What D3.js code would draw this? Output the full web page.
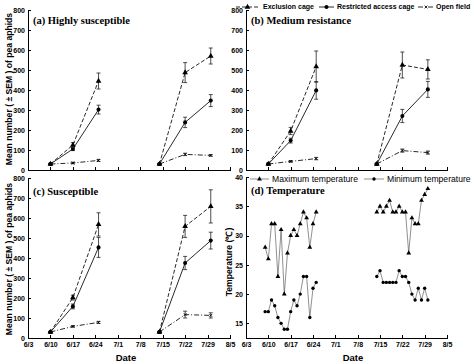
<!DOCTYPE html>
<html>
<head>
<meta charset="utf-8">
<title>Pea aphid numbers and temperature</title>
<script src="https://d3js.org/d3.v7.min.js"></script>
<style>
  body { margin: 0; background: #fff; }
  svg { display: block; font-family: "Liberation Sans", Arial, sans-serif; }
  .axis path, .axis line { stroke: #000; stroke-width: 1; shape-rendering: crispEdges; }
  .axis text { font-size: 7px; font-weight: bold; fill: #000; }
  .panel-title { font-family: "Liberation Serif", "Times New Roman", serif; font-weight: bold; font-size: 10.5px; }
  .axis-title { font-weight: bold; font-size: 8.6px; text-anchor: middle; }
  .date-title { font-weight: bold; font-size: 9.5px; text-anchor: middle; }
  .legend-top text { font-size: 7px; font-weight: bold; }
  .legend-temp text { font-size: 8.6px; }
</style>
</head>
<body>
<div id="chart"></div>
<script>
// ticks
const dateTicks = ["6/3", "6/10", "6/17", "6/24", "7/1", "7/8", "7/15", "7/22", "7/29", "8/5"];
const aphidTicks = [0, 100, 200, 300, 400, 500, 600, 700, 800];
const tempTicks = [15, 20, 25, 30, 35, 40];

// sampling dates of the aphid counts
const sampleDates = ["6/10", "6/17", "6/25", "7/14", "7/22", "7/30"];

// (a) Highly susceptible
const aExclusion = [30, 125, 445, 30, 487, 570];
const aExclusionSem = [3, 12, 40, 3, 50, 40];
const aRestricted = [30, 105, 302, 30, 238, 347];
const aRestrictedSem = [3, 8, 22, 3, 26, 30];
const aOpen = [30, 35, 48, 30, 78, 73];
const aOpenSem = [2, 4, 5, 2, 6, 4];

// (b) Medium resistance
const bExclusion = [30, 195, 517, 30, 525, 503];
const bExclusionSem = [3, 18, 78, 3, 65, 48];
const bRestricted = [30, 147, 398, 30, 270, 403];
const bRestrictedSem = [3, 12, 44, 3, 33, 40];
const bOpen = [30, 43, 57, 30, 97, 87];
const bOpenSem = [2, 4, 6, 2, 8, 8];

// (c) Susceptible
const cExclusion = [30, 202, 568, 30, 558, 658];
const cExclusionSem = [3, 12, 58, 3, 55, 83];
const cRestricted = [30, 158, 453, 30, 375, 487];
const cRestrictedSem = [3, 12, 50, 3, 33, 42];
const cOpen = [30, 58, 78, 30, 117, 113];
const cOpenSem = [2, 4, 5, 2, 17, 13];

// (d) Temperature, daily
const tempDates = ["6/9", "6/10", "6/11", "6/12", "6/13", "6/14", "6/15", "6/16", "6/17",
  "6/18", "6/19", "6/20", "6/21", "6/22", "6/23", "6/24", "6/25",
  "7/14", "7/15", "7/16", "7/17", "7/18", "7/19", "7/20", "7/21", "7/22",
  "7/23", "7/24", "7/25", "7/26", "7/27", "7/28", "7/29", "7/30"];
const tempMax = [28, 26, 32, 32, 23, 31, 20, 27, 30, 31, 30, 32, 34, 33, 28, 32, 34,
  34, 35, 34, 35, 36, 34, 34, 35, 34, 34, 27, 33, 32, 32, 36, 37, 38];
const tempMin = [17, 17, 19, 18, 16, 15, 14, 14, 17, 19, 18, 20, 23, 23, 16, 21, 22,
  23, 24, 22, 22, 22, 22, 22, 24, 23, 23, 22, 20, 19, 21, 19, 21, 19];

const parseMD = s => { const [m, d] = s.split("/").map(Number); return new Date(2000, m - 1, d); };

const width = 474, height = 364;
const svg = d3.select("#chart").append("svg")
  .attr("width", width).attr("height", height);

// panel frames
const panels = [
  { id: "a", title: "(a) Highly susceptible", x: [28, 230], y: [170, 10], showDates: false },
  { id: "b", title: "(b) Medium resistance", x: [246, 447], y: [170, 10], showDates: false },
  { id: "c", title: "(c) Susceptible", x: [28, 230], y: [338, 178], showDates: true },
  { id: "d", title: "(d) Temperature", x: [246, 447], y: [338, 177], showDates: true }
];

const aphidData = {
  a: { ex: [aExclusion, aExclusionSem], re: [aRestricted, aRestrictedSem], op: [aOpen, aOpenSem] },
  b: { ex: [bExclusion, bExclusionSem], re: [bRestricted, bRestrictedSem], op: [bOpen, bOpenSem] },
  c: { ex: [cExclusion, cExclusionSem], re: [cRestricted, cRestrictedSem], op: [cOpen, cOpenSem] }
};

const seriesStyle = {
  ex: { dash: "4,2", symbol: d3.symbolTriangle, size: 14 },
  re: { dash: null, symbol: d3.symbolCircle, size: 13 },
  op: { dash: "5,2,1,2", symbol: d3.symbolTimes, size: 6 }
};

// split points into runs where the date gap is big
function runs(points) {
  const out = [];
  points.forEach((p, i) => {
    if (i === 0 || (p.date - points[i - 1].date) > 10 * 864e5) out.push([]);
    out[out.length - 1].push(p);
  });
  return out;
}

panels.forEach(p => {
  const x = d3.scaleTime().domain([parseMD("6/3"), parseMD("8/5")]).range(p.x);
  const y = d3.scaleLinear()
    .domain(p.id === "d" ? [12.5, 40] : [0, 800])
    .range(p.y);
  const g = svg.append("g");

  g.append("g").attr("class", "axis")
    .attr("transform", `translate(0,${p.y[0]})`)
    .call(d3.axisBottom(x).tickValues(dateTicks.map(parseMD))
      .tickSizeInner(-3).tickSizeOuter(0).tickPadding(4)
      .tickFormat(p.showDates ? d => `${d.getMonth() + 1}/${d.getDate()}` : ""));

  g.append("g").attr("class", "axis")
    .attr("transform", `translate(${p.x[0]},0)`)
    .call(d3.axisLeft(y).tickValues(p.id === "d" ? tempTicks : aphidTicks)
      .tickSizeInner(-3).tickSizeOuter(0).tickPadding(3));

  g.append("text").attr("class", "panel-title")
    .attr("x", p.x[0] + 5).attr("y", p.y[1] + (p.y[0] > 200 ? 17 : 14))
    .text(p.title);

  const line = d3.line().x(d => x(d.date)).y(d => y(d.value));

  if (p.id !== "d") {
    const set = aphidData[p.id];
    ["op", "re", "ex"].forEach(key => {
      const st = seriesStyle[key];
      const pts = sampleDates.map((s, i) => ({ date: parseMD(s), value: set[key][0][i], sem: set[key][1][i] }));
      runs(pts).forEach(r => {
        g.append("path").datum(r)
          .attr("d", line)
          .attr("fill", "none").attr("stroke", "#111")
          .attr("stroke-width", 0.9)
          .attr("stroke-dasharray", st.dash);
      });
      // error bars
      const eb = g.append("g").attr("stroke", "#222").attr("stroke-width", 0.8);
      pts.forEach(d => {
        const cx = x(d.date);
        eb.append("line").attr("x1", cx).attr("x2", cx)
          .attr("y1", y(d.value + d.sem)).attr("y2", y(d.value - d.sem));
        eb.append("line").attr("x1", cx - 2).attr("x2", cx + 2)
          .attr("y1", y(d.value + d.sem)).attr("y2", y(d.value + d.sem));
        eb.append("line").attr("x1", cx - 2).attr("x2", cx + 2)
          .attr("y1", y(d.value - d.sem)).attr("y2", y(d.value - d.sem));
      });
      g.selectAll(null).data(pts).enter().append("path")
        .attr("transform", d => `translate(${x(d.date)},${y(d.value)})`)
        .attr("d", d3.symbol().type(st.symbol).size(st.size))
        .attr("fill", "#000")
        .attr("stroke", key === "op" ? "#000" : "none")
        .attr("stroke-width", 0.8);
    });
  } else {
    [[tempMax, d3.symbolTriangle, 10], [tempMin, d3.symbolCircle, 9]].forEach(([vals, sym, size]) => {
      const pts = tempDates.map((s, i) => ({ date: parseMD(s), value: vals[i] }));
      runs(pts).forEach(r => {
        g.append("path").datum(r).attr("d", line)
          .attr("fill", "none").attr("stroke", "#444").attr("stroke-width", 0.6);
      });
      g.selectAll(null).data(pts).enter().append("path")
        .attr("transform", d => `translate(${x(d.date)},${y(d.value)})`)
        .attr("d", d3.symbol().type(sym).size(size))
        .attr("fill", "#000");
    });
  }
});

// axis titles
svg.append("text").attr("class", "axis-title")
  .attr("transform", "translate(9,89) rotate(-90)").attr("dy", "0.35em")
  .text("Mean number ( \u00b1 SEM ) of pea aphids");
svg.append("text").attr("class", "axis-title")
  .attr("transform", "translate(9,259) rotate(-90)").attr("dy", "0.35em")
  .text("Mean number ( \u00b1 SEM ) of pea aphids");
svg.append("text").attr("class", "axis-title")
  .attr("transform", "translate(229,262) rotate(-90)").attr("dy", "0.35em")
  .text("Temperature (\u2103)");
svg.append("text").attr("class", "date-title")
  .attr("x", 126).attr("y", 361).text("Date");
svg.append("text").attr("class", "date-title")
  .attr("x", 353).attr("y", 361).text("Date");

// legend for aphid panels
const legendTop = [
  { key: "ex", label: "Exclusion cage", x0: 236, x1: 259, tx: 263 },
  { key: "re", label: "Restricted access cage", x0: 319, x1: 334, tx: 337 },
  { key: "op", label: "Open field", x0: 418, x1: 434, tx: 436 }
];
const lt = svg.append("g").attr("class", "legend-top");
legendTop.forEach(l => {
  const st = seriesStyle[l.key];
  lt.append("line").attr("x1", l.x0).attr("x2", l.x1).attr("y1", 7).attr("y2", 7)
    .attr("stroke", "#111").attr("stroke-width", 0.9).attr("stroke-dasharray", st.dash);
  lt.append("path").attr("transform", `translate(${(l.x0 + l.x1) / 2},7)`)
    .attr("d", d3.symbol().type(st.symbol).size(st.size))
    .attr("fill", "#000").attr("stroke", l.key === "op" ? "#000" : "none").attr("stroke-width", 0.8);
  lt.append("text").attr("x", l.tx).attr("y", 7).attr("dy", "0.35em").text(l.label);
});

// legend for temperature panel
const legendTemp = [
  { label: "Maximum temperature", symbol: d3.symbolTriangle, size: 10, x0: 250, x1: 269, tx: 272 },
  { label: "Minimum temperature", symbol: d3.symbolCircle, size: 9, x0: 364, x1: 384, tx: 387 }
];
const ltt = svg.append("g").attr("class", "legend-temp");
legendTemp.forEach(l => {
  ltt.append("line").attr("x1", l.x0).attr("x2", l.x1).attr("y1", 179).attr("y2", 179)
    .attr("stroke", "#444").attr("stroke-width", 0.6);
  ltt.append("path").attr("transform", `translate(${(l.x0 + l.x1) / 2},179)`)
    .attr("d", d3.symbol().type(l.symbol).size(l.size)).attr("fill", "#000");
  ltt.append("text").attr("x", l.tx).attr("y", 179).attr("dy", "0.35em").text(l.label);
});
</script>
</body>
</html>
